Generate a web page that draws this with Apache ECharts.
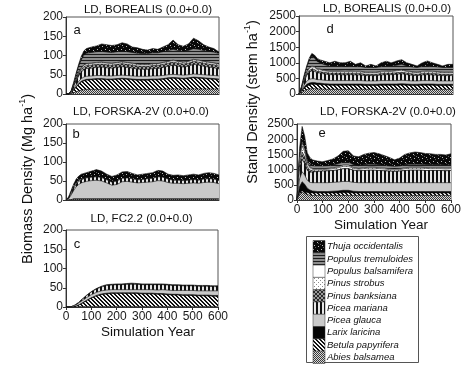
<!DOCTYPE html>
<html><head><meta charset="utf-8">
<script src="https://cdn.jsdelivr.net/npm/echarts@6/dist/echarts.min.js"></script>
<style>html,body{margin:0;padding:0;background:#fff}#c{width:474px;height:366px}</style>
</head><body><div id="c"></div>
<script>
// ---------------- DATA ----------------
const years = [0,10,20,30,40,50,60,70,80,100,120,140,160,180,200,220,240,260,280,300,320,340,360,380,400,420,440,460,480,500,520,540,560,580,600];
const speciesOrder = ['Abies balsamea','Betula papyrifera','Larix laricina','Picea glauca','Picea mariana','Pinus banksiana','Pinus strobus','Populus balsamifera','Populus tremuloides','Thuja occidentalis'];
const legendOrder = ['Thuja occidentalis','Populus tremuloides','Populus balsamifera','Pinus strobus','Pinus banksiana','Picea mariana','Picea glauca','Larix laricina','Betula papyrifera','Abies balsamea'];
const panelTitles = ['LD, BOREALIS (0.0+0.0)','LD, FORSKA-2V (0.0+0.0)','LD, FC2.2 (0.0+0.0)','LD, BOREALIS (0.0+0.0)','LD, FORSKA-2V (0.0+0.0)'];
const panelLetters = ['a','b','c','d','e'];

// Panel a: BOREALIS biomass (Mg/ha), layer thickness per species
const A_abies = [0,0,1,3,6,8,10,11,12,12,12,12,12,12,12,12,12,12,12,12,12,12,12,12,13,13,13,13,13,13,13,13,13,13,13];
const A_betula = [0,0,2,7,12,17,21,23,24,25,26,26,25,25,26,27,26,25,24,24,24,25,25,26,27,28,27,26,27,29,28,27,26,25,24];
const A_larix = [0,0,0,1,1,2,2,2,2,2,2,2,2,2,2,2,2,2,2,2,2,2,2,2,2,2,2,2,2,2,2,2,2,2,2];
const A_glauca = [0,0,1,3,5,6,7,8,8,8,8,8,8,8,8,8,8,8,8,8,8,8,8,8,8,8,8,8,8,8,8,8,8,8,8];
const A_mariana = [0,0,1,5,10,14,17,19,20,20,21,22,21,20,21,22,21,20,19,18,18,19,19,21,22,24,22,21,22,25,24,22,21,20,18];
const A_banksiana = [0,0,1,2,4,6,7,8,8,8,8,8,8,8,8,8,8,8,8,8,8,8,8,8,8,8,8,8,8,8,8,8,8,8,8];
const A_strobus = [0,0,0,1,2,3,3,4,4,4,4,4,4,4,4,4,4,4,4,4,4,4,4,4,4,4,4,4,4,4,4,4,4,4,4];
const A_balsamifera = [0,0,0,0,0,1,1,1,1,1,1,1,1,1,1,1,1,1,1,1,1,1,1,1,1,1,1,1,1,1,1,1,1,1,1];
const A_tremuloides = [0,0,2,6,11,16,21,25,27,28,28,28,28,28,28,28,28,28,28,28,28,28,28,28,28,28,28,28,28,28,28,28,28,28,27];
const A_thuja = [0,0,0,2,4,5,9,11,12,14,15,19,19,18,18,21,20,14,14,11,9,11,9,12,15,24,15,13,17,27,22,15,11,9,4];

// Panel b: FORSKA-2V biomass
const B_abies = [0,0,1,2,2,2,2,2,2,2,2,2,2,2,2,2,2,2,2,2,2,2,2,2,2,2,2,2,2,2,2,2,2,2,2];
const B_larix = [0,0,0,1,1,1,1,1,1,1,1,1,1,1,1,1,1,1,1,1,1,1,1,1,1,1,1,1,1,1,1,1,1,1,1];
const B_glauca = [0,3,12,22,32,38,42,44,46,48,49,47,42,36,38,45,46,44,42,43,44,45,48,47,43,41,41,40,41,42,41,43,44,43,40];
const B_mariana = [0,1,3,5,7,8,8,9,9,9,9,9,8,8,9,9,9,9,8,8,9,9,10,10,9,8,8,8,8,9,8,9,9,9,8];
const B_banksiana = [0,2,5,6,5,4,3,2,1,0,0,0,0,0,0,0,0,0,0,0,0,0,0,0,0,0,0,0,0,0,0,0,0,0,0];
const B_thuja = [0,2,4,6,8,10,12,12,13,16,19,17,15,15,16,17,17,14,13,14,14,15,17,16,13,13,14,13,14,14,14,15,16,15,15];

// Panel c: FC2.2 biomass
const C_abies = [0,0,0,0,0,1,1,1,1,1,1,1,1,1,1,1,1,1,1,1,1,1,1,1,1,1,1,1,1,1,1,1,1,1,1];
const C_betula = [0,0,0,1,2,4,7,11,15,22,28,31,33,34,34,34,34,34,34,33,33,33,32,32,31,30,30,29,29,29,28,28,28,27,27];
const C_larix = [0,0,0,0,0,0,1,1,1,1,1,2,2,2,2,2,2,2,2,2,2,2,2,2,2,2,2,2,2,2,2,2,2,2,2];
const C_glauca = [0,0,1,2,4,5,6,6,7,8,8,8,8,8,8,8,8,8,8,9,9,9,9,10,10,10,10,11,11,11,11,11,11,12,12];
const C_mariana = [0,0,0,0,1,2,3,4,5,7,9,10,12,12,13,13,14,14,14,13,13,13,14,13,13,13,13,12,12,12,12,12,12,11,11];
const C_thuja = [0,0,0,0,0,0,0,1,1,1,1,2,2,2,2,2,2,3,2,2,2,2,2,2,2,2,2,2,2,2,2,2,2,2,2];

// Panel d: BOREALIS stand density (stems/ha)
const D_abies = [0,40,100,140,160,170,170,160,160,150,150,150,150,150,150,150,150,150,150,150,150,150,150,150,150,150,150,150,150,150,150,150,150,150,150];
const D_betula = [0,40,80,110,130,140,140,140,140,140,130,130,130,130,130,130,130,120,120,120,130,130,130,130,140,130,120,120,130,130,130,120,120,120,120];
const D_larix = [0,20,40,60,60,60,60,50,50,40,40,40,40,40,40,40,40,40,40,40,40,40,40,40,40,40,40,40,40,40,40,40,40,40,40];
const D_glauca = [0,30,70,100,120,120,120,110,110,110,110,110,110,110,110,110,110,110,110,110,110,110,110,110,110,110,110,110,110,110,110,110,110,110,110];
const D_mariana = [0,50,120,180,230,250,240,220,210,200,190,190,190,180,190,180,180,170,170,170,180,190,190,200,210,190,180,170,180,190,180,180,170,170,170];
const D_banksiana = [0,10,30,50,60,60,60,50,50,50,50,50,50,50,50,50,50,40,40,40,50,50,50,50,50,50,50,40,50,50,50,50,40,40,40];
const D_strobus = [0,10,30,50,60,70,70,60,60,50,50,50,50,50,50,50,50,50,50,50,50,50,50,60,60,50,50,50,50,50,50,50,50,50,50];
const D_balsamifera = [0,0,10,20,20,20,20,20,20,20,20,20,20,20,20,20,20,20,20,20,20,20,20,20,20,20,20,20,20,20,20,20,20,20,20];
const D_tremuloides = [0,40,90,150,240,320,280,240,200,180,160,160,160,160,160,150,150,150,150,150,150,160,160,160,170,160,150,150,160,160,160,150,150,150,150];
const D_thuja = [0,10,30,40,70,90,90,100,100,110,100,150,100,110,150,70,120,50,100,50,120,150,100,140,150,100,80,50,110,160,110,80,50,100,100];

// Panel e: FORSKA-2V stand density
const E_abies = [0,200,250,220,180,160,150,150,150,150,150,150,150,150,150,150,150,150,150,150,150,150,150,150,150,150,150,150,150,150,150,150,150,150,150];
const E_betula = [0,40,50,50,60,70,80,80,80,80,80,80,80,90,90,80,80,80,80,80,80,80,80,80,80,80,80,80,80,80,80,80,80,80,80];
const E_larix = [0,200,300,250,150,100,70,60,50,50,50,60,70,80,80,60,50,50,50,50,50,50,50,50,50,50,50,50,50,50,50,50,50,50,50];
const E_glauca = [0,250,330,300,260,250,270,280,290,290,290,290,290,290,290,290,290,290,290,290,290,290,290,290,290,290,290,290,290,290,290,290,290,290,290];
const E_mariana = [0,350,400,380,320,330,350,360,370,380,390,390,400,420,420,400,390,400,410,410,400,390,380,370,380,400,410,410,410,400,400,400,400,390,400];
const E_banksiana = [0,150,250,220,130,80,40,20,10,0,0,0,0,0,0,0,0,0,0,0,0,0,0,0,0,0,0,0,0,0,0,0,0,0,0];
const E_strobus = [0,150,200,170,100,70,50,50,50,50,50,60,70,80,80,60,50,60,70,70,60,60,50,50,50,60,70,70,70,70,60,60,60,60,60];
const E_balsamifera = [0,50,100,80,40,30,30,30,30,30,30,30,30,40,40,30,30,30,30,30,30,30,30,30,30,30,30,30,30,30,30,30,30,30,30];
const E_tremuloides = [0,60,80,80,80,90,90,90,90,90,90,90,100,100,100,90,90,100,100,100,100,90,90,90,90,100,100,100,100,100,100,100,100,100,100];
const E_thuja = [0,250,460,350,230,220,190,180,160,140,170,200,260,350,370,290,290,340,360,380,360,320,280,210,260,340,370,400,380,360,360,340,340,330,360];

const panelSeries = [
  [A_abies,A_betula,A_larix,A_glauca,A_mariana,A_banksiana,A_strobus,A_balsamifera,A_tremuloides,A_thuja],
  [B_abies,null,B_larix,B_glauca,B_mariana,B_banksiana,null,null,null,B_thuja],
  [C_abies,C_betula,C_larix,C_glauca,C_mariana,null,null,null,null,C_thuja],
  [D_abies,D_betula,D_larix,D_glauca,D_mariana,D_banksiana,D_strobus,D_balsamifera,D_tremuloides,D_thuja],
  [E_abies,E_betula,E_larix,E_glauca,E_mariana,E_banksiana,E_strobus,E_balsamifera,E_tremuloides,E_thuja]
];

// ---------------- STYLE ----------------
const FONT = 'Liberation Sans, Arial, sans-serif';
function mk(w,h,fn){const c=document.createElement('canvas');c.width=w;c.height=h;const g=c.getContext('2d');fn(g);return {image:c,repeat:'repeat'};}
const fills = {
  'Abies balsamea': mk(2,2,g=>{g.fillStyle='#d8d8d8';g.fillRect(0,0,2,2);g.fillStyle='#3a3a3a';g.fillRect(0,0,1,1);g.fillRect(1,1,1,1);}),
  'Betula papyrifera': mk(4,4,g=>{g.fillStyle='#f4f4f4';g.fillRect(0,0,4,4);g.fillStyle='#111';for(let i=0;i<4;i++){g.fillRect(i,i,1,1);g.fillRect((i+1)%4,i,1,1);}}),
  'Larix laricina': '#050505',
  'Picea glauca': '#c9c9c9',
  'Picea mariana': mk(4,1,g=>{g.fillStyle='#111';g.fillRect(0,0,2,1);g.fillStyle='#e6e6e6';g.fillRect(2,0,2,1);}),
  'Pinus banksiana': mk(4,4,g=>{g.fillStyle='#2a2a2a';g.fillRect(0,0,4,4);g.fillStyle='#9a9a9a';for(let i=0;i<4;i++){g.fillRect(i,i,1,1);g.fillRect(3-i,i,1,1);}}),
  'Pinus strobus': mk(4,4,g=>{g.fillStyle='#fff';g.fillRect(0,0,4,4);g.fillStyle='#8a8a8a';g.fillRect(0,0,1,1);g.fillRect(2,2,1,1);}),
  'Populus balsamifera': '#ffffff',
  'Populus tremuloides': mk(1,3,g=>{g.fillStyle='#1c1c1c';g.fillRect(0,0,1,1);g.fillStyle='#8c8c8c';g.fillRect(0,1,1,2);}),
  'Thuja occidentalis': mk(8,8,g=>{g.fillStyle='#080808';g.fillRect(0,0,8,8);g.fillStyle='#bdbdbd';[[1,1],[5,2],[2,5],[6,6]].forEach(p=>g.fillRect(p[0],p[1],1,1));g.fillStyle='#555';[[3,7],[6,3],[0,4]].forEach(p=>g.fillRect(p[0],p[1],1,1));})
};

const grids = [
  {left:66, top:17, width:153, height:77},
  {left:66, top:124, width:153, height:76},
  {left:66, top:230, width:152, height:77},
  {left:299, top:16, width:154, height:78},
  {left:297, top:124, width:154, height:76}
];
const showX = [false,false,true,false,true];
const yMax = [200,200,200,2500,2500];
const yInt = [50,50,50,500,500];

const option = {
  animation:false,
  backgroundColor:'#fff',
  grid: grids.map(g=>Object.assign({show:true, borderColor:'#555', borderWidth:1, backgroundColor:'transparent'}, g)),
  xAxis: grids.map((g,i)=>({gridIndex:i, type:'value', min:0, max:600, interval:100,
    axisLine:{show:true, lineStyle:{color:'#333', width:1}},
    axisTick:{show:showX[i], length:3, lineStyle:{color:'#333'}},
    axisLabel:{show:showX[i], fontSize:12, fontFamily:FONT, color:'#1a1a1a', margin:4, formatter:v=>String(v)},
    splitLine:{show:false}})),
  yAxis: grids.map((g,i)=>({gridIndex:i, type:'value', min:0, max:yMax[i], interval:yInt[i],
    axisLine:{show:true, lineStyle:{color:'#333', width:1}},
    axisTick:{show:true, length:3, lineStyle:{color:'#333'}},
    axisLabel:{fontSize:12, fontFamily:FONT, color:'#1a1a1a', margin:3, formatter:v=>String(v)},
    splitLine:{show:false}})),
  series: [],
  graphic: []
};

// Build cumulative layers (painted from top layer down so lower layers overlay higher ones)
panelSeries.forEach((arrs,pi)=>{
  const cum = years.map(()=>0);
  const layers = [];
  arrs.forEach((arr,si)=>{
    if(!arr) return;
    for(let k=0;k<years.length;k++) cum[k]+=arr[k];
    layers.push({name:speciesOrder[si], vals:cum.slice()});
  });
  layers.reverse().forEach((L,li)=>{
    option.series.push({
      name:L.name, type:'line', xAxisIndex:pi, yAxisIndex:pi, silent:true, z:2+li,
      data: years.map((y,k)=>[y, L.vals[k]]),
      symbol:'none', smooth:false,
      lineStyle:{color:'#111', width:0.6},
      areaStyle:{color: fills[L.name], opacity:1}
    });
  });
});

// titles & letters
const titlePos = [[148,10],[141,112],[141.5,219],[387,9],[388,112]];
const letterPos = [[77,30],[76,134],[77,244],[330,29],[322,133]];
titlePos.forEach((p,i)=>{
  option.graphic.push({type:'text', x:p[0], y:p[1], silent:true, style:{text:panelTitles[i], font:'11.5px '+FONT, fill:'#111', textAlign:'center', textVerticalAlign:'middle'}});
  option.graphic.push({type:'text', x:letterPos[i][0], y:letterPos[i][1], silent:true, z:50, style:{text:panelLetters[i], font:'13px '+FONT, fill:'#111', textAlign:'center', textVerticalAlign:'middle'}});
});
option.graphic.push({type:'text', x:148, y:332, silent:true, style:{text:'Simulation Year', font:'13.5px '+FONT, fill:'#111', textAlign:'center', textVerticalAlign:'middle'}});
option.graphic.push({type:'text', x:381, y:225, silent:true, style:{text:'Simulation Year', font:'13.5px '+FONT, fill:'#111', textAlign:'center', textVerticalAlign:'middle'}});
function yName(txt, x, y){
  return {type:'text', x, y, rotation:Math.PI/2, silent:true, style:{
    text:'{a|'+txt+'}{s|-1}{a|)}', textAlign:'center', textVerticalAlign:'middle',
    rich:{a:{fontSize:14.5, fontFamily:FONT, fill:'#111', lineHeight:17, verticalAlign:'bottom'},
          s:{fontSize:9, fontFamily:FONT, fill:'#111', lineHeight:17, verticalAlign:'top'}}}};
}
option.graphic.push(yName('Biomass Density (Mg ha',27,179));
option.graphic.push(yName('Stand Density (stem ha',252,102));

// legend box
option.graphic.push({type:'rect', silent:true, shape:{x:306.5, y:236.5, width:112, height:126}, style:{fill:'#fff', stroke:'#555', lineWidth:1}, z:10});
legendOrder.forEach((name,i)=>{
  const y0 = 240.5 + i*12.3;
  option.graphic.push({type:'rect', silent:true, z:11, shape:{x:313, y:y0, width:12, height:12.3}, style:{fill:fills[name], stroke:'#333', lineWidth:0.5}});
  option.graphic.push({type:'text', silent:true, z:11, x:327, y:y0+6.2, style:{text:name, font:'italic 9.5px '+FONT, fill:'#111', textAlign:'left', textVerticalAlign:'middle'}});
});

const chart = echarts.init(document.getElementById('c'), null, {renderer:'canvas'});
chart.setOption(option);
</script>
</body></html>
